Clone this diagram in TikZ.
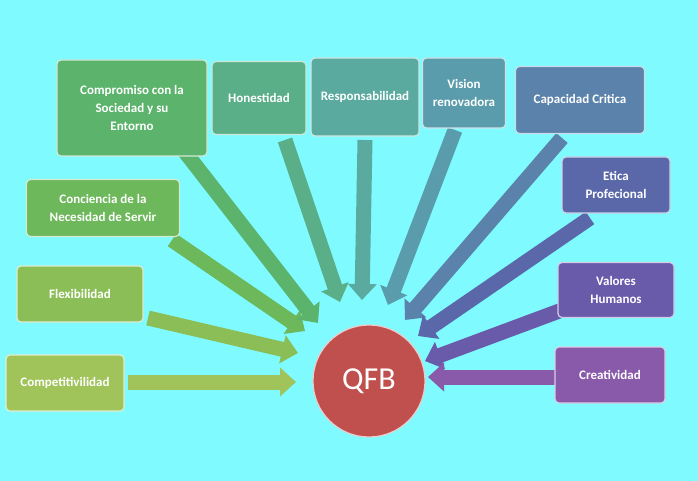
\documentclass[tikz,border=0pt]{standalone}
\usepackage{fontspec}
\setmainfont{Carlito}
\usetikzlibrary{arrows.meta}
\begin{document}
\begin{tikzpicture}[x=1pt,y=-1pt,
 box/.style={draw=white!70!#1,line width=1.2pt,fill=#1,rounded corners=4pt,text=white,font=\bfseries\fontsize{13}{18}\selectfont,align=center,inner sep=2pt},
 arr/.style={line width=15pt,draw=#1,-{Triangle[width=28pt,length=16pt]}}]
\definecolor{bg}{HTML}{7FFBFF}
\fill[bg] (0,0) rectangle (698,481);
\definecolor{c1}{HTML}{A0C35A}\definecolor{c2}{HTML}{8CBE58}\definecolor{c3}{HTML}{6CB85A}
\definecolor{c4}{HTML}{5CB46C}\definecolor{c5}{HTML}{5AAE88}\definecolor{c6}{HTML}{5AAAA0}
\definecolor{c7}{HTML}{5A9CAC}\definecolor{c8}{HTML}{5A82AA}\definecolor{c9}{HTML}{5A68AA}
\definecolor{c10}{HTML}{6A5AAA}\definecolor{c11}{HTML}{8A5AAA}\definecolor{cq}{HTML}{C0504D}
\coordinate (a1s) at (128,382); \coordinate (a1e) at (296,382);
\coordinate (a2s) at (148,318); \coordinate (a2e) at (298,353);
\coordinate (a3s) at (172,240); \coordinate (a3e) at (305,331);
\coordinate (a4s) at (182,148); \coordinate (a4e) at (318,323);
\coordinate (a5s) at (285,140); \coordinate (a5e) at (340,302);
\coordinate (a6s) at (365,140); \coordinate (a6e) at (362,300);
\coordinate (a7s) at (455,130); \coordinate (a7e) at (388,305);
\coordinate (a8s) at (562,138); \coordinate (a8e) at (405,320);
\coordinate (a9s) at (590,218); \coordinate (a9e) at (418,336);
\coordinate (a10s) at (562,310); \coordinate (a10e) at (425,361);
\coordinate (a11s) at (556,377); \coordinate (a11e) at (428,377);
\foreach \i in {1,...,11}{\draw[arr=c\i] (a\i s) -- (a\i e);}
\node[box=c1,minimum width=118,minimum height=56] (b1) at (65,383) {Competitivilidad};
\node[box=c2,minimum width=126,minimum height=56] (b2) at (80,294) {Flexibilidad};
\node[box=c3,minimum width=153,minimum height=57] (b3) at (103,208) {Conciencia de la\\Necesidad de Servir};
\node[box=c4,minimum width=150,minimum height=96] (b4) at (132,108) {Compromiso con la\\Sociedad y su\\Entorno};
\node[box=c5,minimum width=94,minimum height=73] (b5) at (259,98) {Honestidad};
\node[box=c6,minimum width=108,minimum height=78] (b6) at (365,97) {Responsabilidad};
\node[box=c7,minimum width=83,minimum height=70] (b7) at (464,93) {Vision\\renovadora};
\node[box=c8,minimum width=129,minimum height=67] (b8) at (580,100) {Capacidad Critica};
\node[box=c9,minimum width=108,minimum height=56] (b9) at (616,185) {Etica\\Profecional};
\node[box=c10,minimum width=116,minimum height=55] (b10) at (616,290) {Valores\\Humanos};
\node[box=c11,minimum width=110,minimum height=56] (b11) at (610,375) {Creatividad};
\node[circle,fill=cq,draw=white!70!cq,line width=1.2pt,minimum size=112,text=white,font=\fontsize{32}{36}\selectfont] (q) at (369,381) {QFB};
\end{tikzpicture}
\end{document}
